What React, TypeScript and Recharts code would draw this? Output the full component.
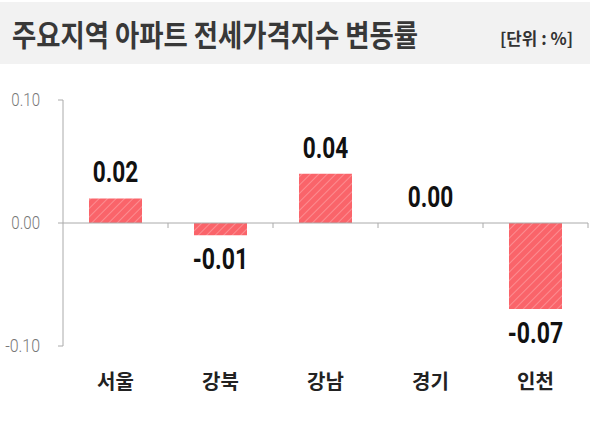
import { ComposedChart, Bar, Line, XAxis, YAxis, ReferenceLine, LabelList } from 'recharts'

const regions = ['서울', '강북', '강남', '경기', '인천']
const changes = [0.02, -0.01, 0.04, 0.0, -0.07]
const yTicks = [-0.1, 0, 0.1]

const title = '주요지역 아파트 전세가격지수 변동률'
const unitLabel = '[단위 : %]'

const data = regions.map((name, i) => ({ name, value: changes[i] }))

const axisColor = '#aaaaaa'
const numFont = "Roboto, 'Liberation Sans', sans-serif"
const krFont = "'Noto Sans CJK KR', 'Noto Sans', sans-serif"

// no condensed font installed, so squeeze the numbers to the reference widths
const numWidth = (s: string, digit: number) =>
  s.split('').reduce((w, c) => w + (c === '.' ? digit * 0.45 : c === '-' ? digit * 0.75 : digit), 0)

const YTick = (props: any) => {
  const { x, y, payload } = props
  const s = payload.value.toFixed(2)
  const w = numWidth(s, 8.3)
  return (
    <text x={x - w} y={y} dy="0.36em" fill="#777" fontSize={18} fontWeight={300} fontFamily={numFont} textLength={w} lengthAdjust="spacingAndGlyphs">
      {s}
    </text>
  )
}

const XTick = (props: any) => {
  const { x, y, payload } = props
  return (
    <text x={x} y={y + 36} dy="0.36em" textAnchor="middle" fill="#222" fontSize={20} fontWeight={700} fontFamily={krFont}>
      {payload.value}
    </text>
  )
}

// zero line plus the small tick marks at category boundaries
const ZeroLine = (props: any) => {
  const { x1, x2, y1 } = props
  const step = (x2 - x1) / regions.length
  return (
    <g>
      <line x1={x1} x2={x2} y1={y1} y2={y1} stroke={axisColor} strokeWidth={1} />
      {regions.map((_, i) => (
        <line key={i} x1={x1 + step * (i + 1)} x2={x1 + step * (i + 1)} y1={y1} y2={y1 + 5} stroke={axisColor} />
      ))}
    </g>
  )
}

const ValueLabel = (props: any) => {
  const { x = 0, y = 0, value } = props
  const s = Number(value).toFixed(2)
  const w = numWidth(s, 13.2)
  const ty = value >= 0 ? y - 16 : y + 34
  return (
    <text x={x - w / 2} y={ty} fill="#111" fontSize={30} fontWeight={700} fontFamily={numFont} textLength={w} lengthAdjust="spacingAndGlyphs">
      {s}
    </text>
  )
}

export default function App() {
  return (
    <div style={{ position: 'absolute', left: 0, top: 0, width: 590, height: 422, background: '#fff' }}>
      <svg width={590} height={422} style={{ position: 'absolute', left: 0, top: 0 }}>
        <rect x={0} y={2} width={590} height={62} fill="#f2f2f2" />
        <text x={12} y={46} fill="#383838" fontSize={30} fontWeight={700} fontFamily={krFont} textLength={406} lengthAdjust="spacingAndGlyphs">
          {title}
        </text>
        <text x={500} y={45} fill="#333" fontSize={17} fontWeight={700} fontFamily={krFont} textLength={73} lengthAdjust="spacingAndGlyphs">
          {unitLabel}
        </text>
      </svg>
      <div style={{ position: 'absolute', left: 0, top: 0 }}>
        <ComposedChart width={590} height={422} data={data} margin={{ top: 100, right: 2, bottom: 0, left: 0 }}>
          <defs>
            <pattern id="hatch" patternUnits="userSpaceOnUse" width={6} height={6} patternTransform="rotate(45)">
              <rect width={6} height={6} fill="#fa646a" />
              <line x1={0} y1={0} x2={0} y2={6} stroke="#fc8d91" strokeWidth={2} />
            </pattern>
          </defs>
          <XAxis dataKey="name" axisLine={false} tickLine={false} tickSize={0} tickMargin={0} height={76} tick={<XTick />} interval={0} />
          <YAxis
            width={63}
            domain={[-0.1, 0.1]}
            ticks={yTicks}
            axisLine={{ stroke: axisColor }}
            tickLine={{ stroke: axisColor }}
            tickSize={5}
            tickMargin={18}
            tick={<YTick />}
          />
          <ReferenceLine y={0} stroke={axisColor} shape={<ZeroLine />} />
          <Bar dataKey="value" barSize={53} fill="url(#hatch)" isAnimationActive={false} />
          <Line dataKey="value" stroke="none" dot={false} activeDot={false} isAnimationActive={false}>
            <LabelList dataKey="value" content={<ValueLabel />} />
          </Line>
        </ComposedChart>
      </div>
    </div>
  )
}
